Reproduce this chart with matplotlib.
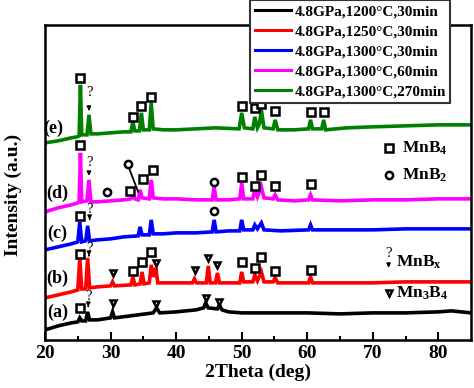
import numpy as np
import matplotlib
matplotlib.use("Agg")
import matplotlib.pyplot as plt

plt.rcParams['font.family'] = ['Liberation Serif', 'DejaVu Serif']
plt.rcParams['font.weight'] = 'bold'
plt.rcParams['axes.labelweight'] = 'bold'
plt.rcParams['mathtext.default'] = 'regular'

# XRD traces (2theta in deg, intensity in a.u.)
tt_a = [20, 22, 24, 25.0, 25.3, 25.6, 26.2, 26.5, 26.8, 28, 30.0, 30.3, 30.6, 33, 36.5, 37.0, 37.5,
        40, 43, 44.2, 44.5, 44.9, 46.3, 46.6, 47.0, 48, 50, 55, 60, 65, 70, 75, 80, 82, 85]
int_a = [10, 14, 17, 18, 22, 19, 19, 28, 20, 20, 22, 28, 22, 24, 27, 32, 27,
         28, 30, 32, 37, 32, 31, 35, 30, 28, 27, 27, 27, 26, 27, 27, 28, 29, 27]

tt_b = [20, 22, 24, 25.0, 25.3, 25.6, 26.2, 26.5, 26.8, 28, 30.0, 30.3, 30.6, 33.1, 33.4, 33.7,
        34.5, 34.8, 35.1, 35.9, 36.2, 36.55, 36.9, 37.2, 40, 42.5, 42.8, 43.1, 44.6, 44.9, 45.2,
        46.0, 46.3, 46.6, 48, 49.7, 50.0, 50.3, 51.7, 52.0, 52.4, 53.0, 53.4, 54.8, 55.1, 55.5,
        60.2, 60.5, 60.8, 65, 70, 75, 80, 85]
int_b = [42, 45, 48, 50, 82, 51, 51, 82, 52, 53, 54, 58, 54, 55, 63, 55,
         56, 68, 56, 57, 75, 63, 72, 57, 57, 57, 61, 57, 57, 74, 57,
         57, 67, 57, 57, 57, 68, 58, 58, 65, 59, 68, 58, 58, 62, 57,
         57, 63, 57, 57, 57, 58, 58, 58]

tt_c = [20, 22, 24, 25.0, 25.3, 25.6, 26.2, 26.5, 26.8, 28, 30, 32, 34.2, 34.5, 34.8, 35.9, 36.2,
        36.5, 38, 40, 43, 45.5, 45.8, 46.1, 48, 49.7, 50.0, 50.3, 51.7, 52.0, 52.4, 53.0, 53.4,
        56, 60.2, 60.5, 60.8, 65, 70, 75, 80, 85]
int_c = [90, 93, 96, 98, 118, 98, 99, 114, 99, 100, 101, 103, 104, 113, 105, 105, 120,
         106, 106, 107, 107, 108, 120, 108, 109, 109, 120, 110, 110, 115, 111, 117, 110,
         109, 110, 115, 110, 110, 110, 111, 111, 111]

tt_d = [20, 22, 24, 25.0, 25.2, 25.4, 25.6, 26.4, 26.7, 27.0, 28, 30, 32, 33.1, 33.4, 33.7, 34.2,
        34.5, 34.8, 35.9, 36.2, 36.5, 38, 40, 43, 45.5, 45.8, 46.1, 48, 49.7, 50.0, 50.3, 51.7,
        52.0, 52.4, 53.0, 53.4, 54.8, 55.1, 55.5, 58, 60.2, 60.5, 60.8, 65, 70, 75, 80, 85]
int_d = [128, 132, 135, 137, 138, 187, 138, 139, 160, 138, 138, 139, 140, 141, 145, 141, 140,
         150, 142, 141, 160, 142, 141, 141, 140, 140, 153, 140, 140, 141, 157, 141, 141,
         151, 143, 153, 142, 141, 145, 140, 139, 140, 145, 140, 139, 140, 140, 141, 141]

tt_e = [20, 22, 24, 24.9, 25.2, 25.4, 25.6, 26.4, 26.7, 27.0, 28, 30, 32, 33.1, 33.4, 33.7, 34.4,
        34.7, 35.0, 35.9, 36.2, 36.5, 38, 40, 43, 46, 49.6, 50.0, 50.4, 51.7, 52.0, 52.4, 52.7,
        53.0, 53.4, 54.8, 55.1, 55.5, 58, 60.2, 60.5, 60.8, 62.2, 62.5, 62.8, 66, 70, 75, 80, 85]
int_e = [197, 199, 202, 203, 204, 255, 205, 205, 225, 206, 206, 207, 208, 208, 218, 209, 209,
         227, 210, 210, 237, 211, 210, 210, 211, 212, 211, 227, 212, 211, 223, 212, 216,
         230, 212, 211, 220, 210, 210, 211, 220, 211, 211, 220, 210, 212, 213, 214, 215, 215]

traces = [(tt_a, int_a), (tt_b, int_b), (tt_c, int_c), (tt_d, int_d), (tt_e, int_e)]
colors = ['black', 'red', 'blue', '#ff00ff', 'green']
labels = ['4.8GPa,1200°C,30min', '4.8GPa,1250°C,30min', '4.8GPa,1300°C,30min',
          '4.8GPa,1300°C,60min', '4.8GPa,1300°C,270min']
panel_names = ['(a)', '(b)', '(c)', '(d)', '(e)']
panel_x = [21.9, 21.9, 21.9, 21.9, 21.3]
panel_y = [28, 62, 107, 147, 212]

# phase markers (2theta, height)
sq_x = [25.4, 33.4, 34.7, 36.2, 50.0, 52.0, 53.0, 55.1, 60.5, 62.5,
        25.4, 33.0, 35.0, 36.5, 50.0, 52.0, 53.0, 55.1, 60.5,
        25.3, 25.3, 33.4, 34.8, 36.2, 50.0, 52.0, 53.0, 55.1, 60.5, 25.3]
sq_y = [262, 223, 234, 243, 234, 232, 236, 229, 228, 228,
        195, 149, 161, 170, 163, 154, 165, 154, 156,
        124, 86, 69, 78, 88, 78, 72, 83, 69, 70, 32]
circ_x = [29.5, 32.6, 45.8, 45.8]
circ_y = [148, 176, 158, 129]
tri_x = [30.3, 36.9, 42.8, 44.9, 46.3, 30.3, 37.0, 44.5, 46.6]
tri_y = [67, 77, 70, 82, 75, 37, 36, 42, 38]
q_x = [26.7, 26.7, 26.8, 26.7, 26.6]
q_text_y = [247, 177, 130, 91, 43]
q_tip_y = [229, 164, 120, 84, 33]

fig = plt.figure(figsize=(4.74, 3.88), dpi=100)
ax = fig.add_axes([0.095, 0.124, 0.899, 0.812])

handles = []
for (x, y), c, lab in zip(traces, colors, labels):
    h, = ax.plot(x, y, color=c, lw=2.6, solid_joinstyle='miter', label=lab)
    handles.append(h)

for name, px, py in zip(panel_names, panel_x, panel_y):
    ax.text(px, py, name, fontsize=13, ha='center', va='center')

mk = dict(ls='none', mfc='white', mec='black', mew=1.8, zorder=5)
ax.plot(sq_x, sq_y, marker='s', ms=5.2, **mk)
ax.plot(circ_x, circ_y, marker='o', ms=5.2, **mk)
ax.plot(tri_x, tri_y, marker='v', ms=5, **mk)
ax.plot([32.8, 34.2], [172, 148], color='black', lw=1.3, zorder=4)
for x, ty, tip in zip(q_x, q_text_y, q_tip_y):
    ax.annotate('?', xy=(x, tip), xytext=(x, ty), fontsize=10.5, fontweight='normal',
                ha='center', va='center',
                arrowprops=dict(arrowstyle='-|>', color='black', lw=1, mutation_scale=6,
                                shrinkA=5, shrinkB=0))

# phase key
ax.plot([72.4], [192], marker='s', ms=5.2, **mk)
ax.text(74.5, 192, 'MnB$_4$', fontsize=12.5, va='center')
ax.plot([72.4], [165], marker='o', ms=5.2, **mk)
ax.text(74.5, 165, 'MnB$_2$', fontsize=12.5, va='center')
ax.annotate('?', xy=(72.4, 72), xytext=(72.4, 86), fontsize=10.5, fontweight='normal',
            ha='center', va='center',
            arrowprops=dict(arrowstyle='-|>', color='black', lw=1, mutation_scale=6,
                            shrinkA=5, shrinkB=0))
ax.text(73.6, 78, 'MnB$_x$', fontsize=12.5, va='center')
ax.plot([72.4], [47], marker='v', ms=5, **mk)
ax.text(73.6, 47, 'Mn$_3$B$_4$', fontsize=12.5, va='center')

ax.set_xlim(20, 85)
ax.set_ylim(0, 315)
ax.set_yticks([])
ax.set_xticks([20, 30, 40, 50, 60, 70, 80])
ax.set_xticks(np.arange(25, 85, 10), minor=True)
ax.tick_params(axis='x', direction='in', length=6, width=1.5, labelsize=14, pad=4)
ax.tick_params(axis='x', which='minor', direction='in', length=3, width=1.5)
for t in ax.get_xticklabels():
    t.set_fontweight('bold')
for s in ax.spines.values():
    s.set_linewidth(1.8)
ax.set_xlabel('2Theta (deg)', fontsize=14, fontweight='bold', labelpad=1)
ax.set_ylabel('Intensity (a.u.)', fontsize=14, fontweight='bold')
ax.yaxis.set_label_coords(-0.055, 0.46)

leg = fig.legend(handles=handles, loc='upper left', bbox_to_anchor=(250 / 474, 1.0),
                 borderaxespad=0, fontsize=11, handlelength=2.4, handletextpad=0.2,
                 labelspacing=0.42, borderpad=0.3, fancybox=False, framealpha=1,
                 edgecolor='#333333')
leg.get_frame().set_linewidth(1.5)
for h in leg.legend_handles:
    h.set_linewidth(2.2)

fig.savefig('out.png', dpi=100)
